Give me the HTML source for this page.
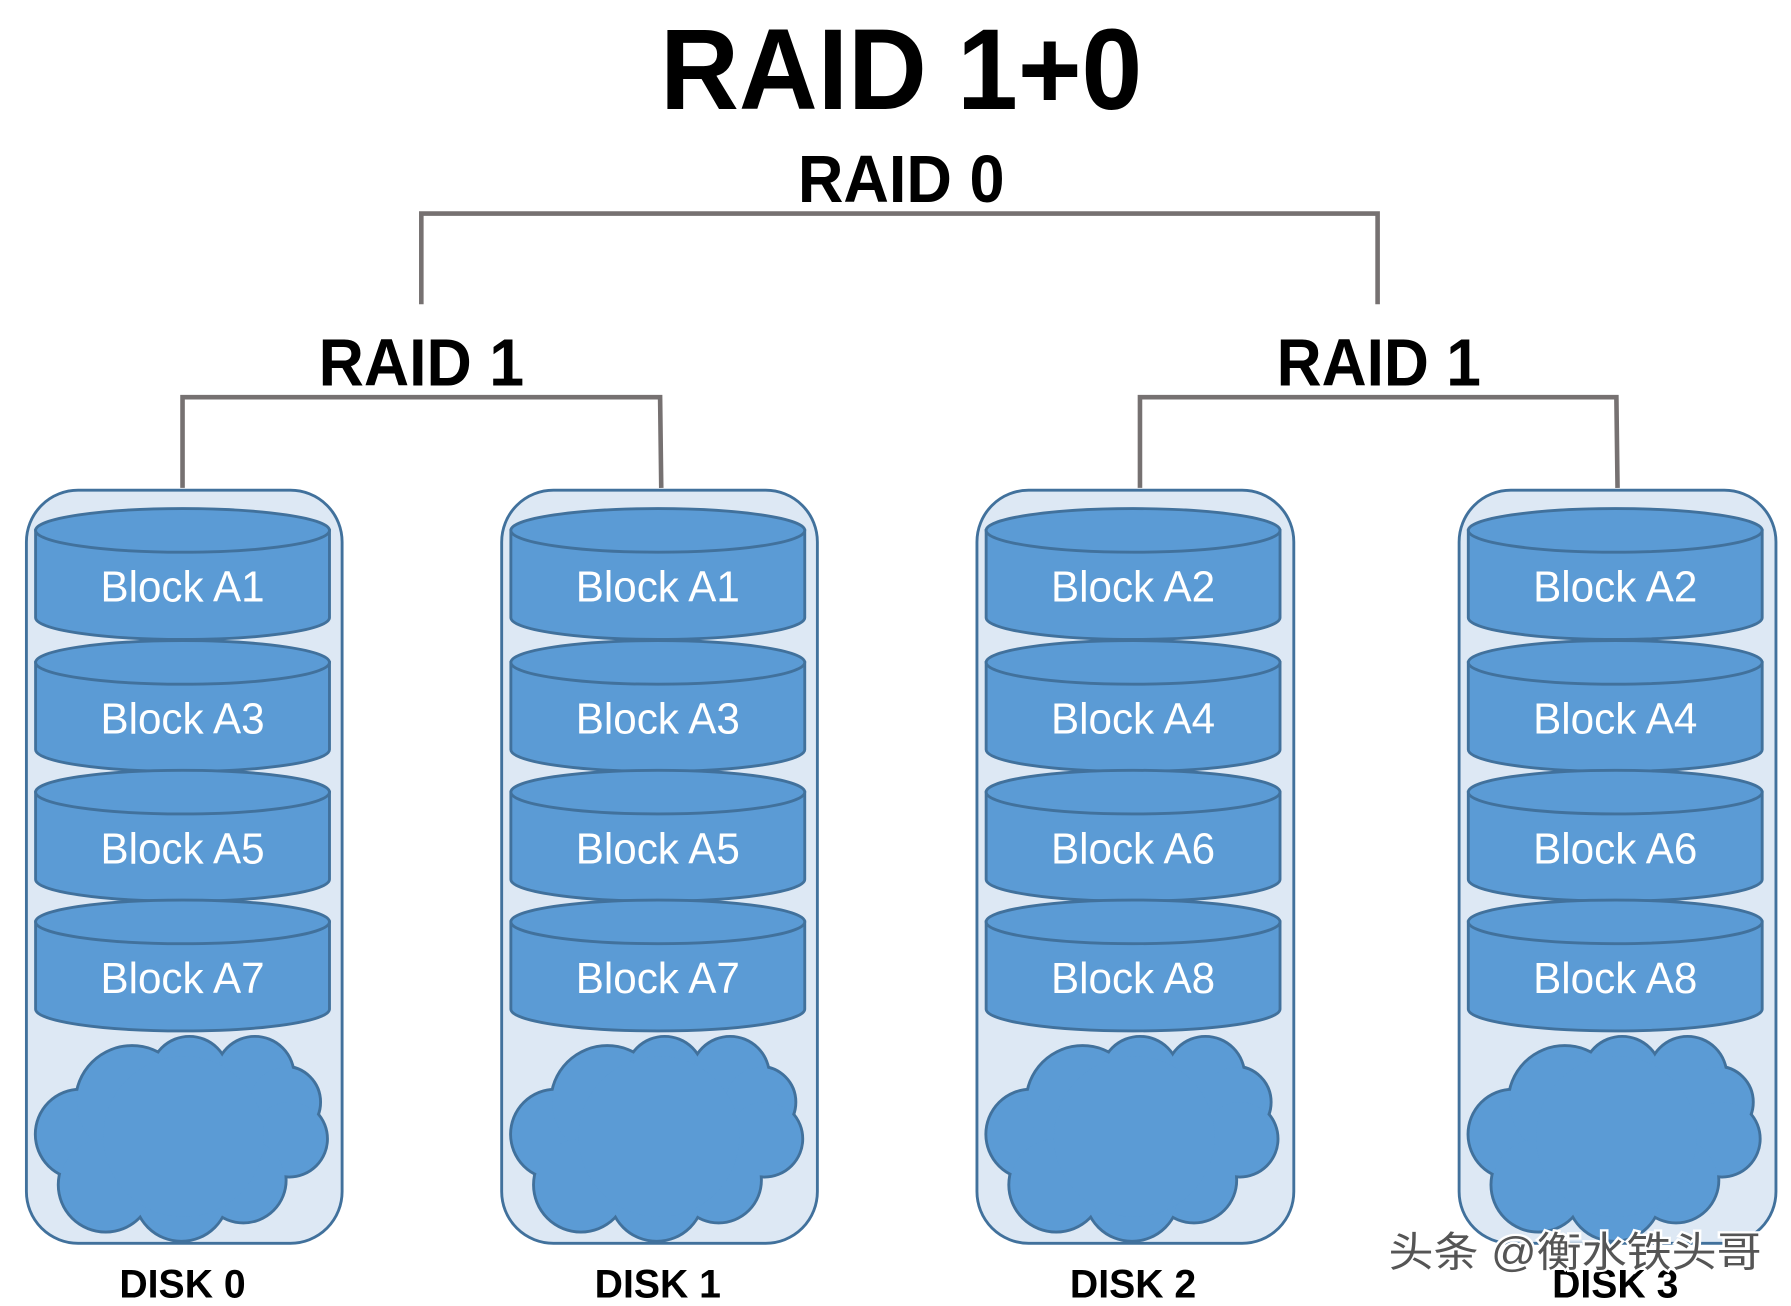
<!DOCTYPE html>
<html><head><meta charset="utf-8"><style>html,body{margin:0;padding:0;background:#fff}svg{display:block}</style></head>
<body>
<svg width="1791" height="1306" viewBox="0 0 1560.1 1137.6" xmlns="http://www.w3.org/2000/svg" font-family="Liberation Sans, sans-serif">
<defs>
<g id="cyl">
<path d="M9,19 L9,95 A128,19 0 0 0 265,95 L265,19 Z" fill="#5b9bd5" stroke="#41719c" stroke-width="2.5"/>
<ellipse cx="137" cy="19" rx="128" ry="19" fill="#5b9bd5" stroke="#41719c" stroke-width="2.5"/>
</g>
<g id="cloudc">
<circle cx="70" cy="988" r="38"/><circle cx="115" cy="960" r="48"/><circle cx="165" cy="937" r="33"/>
<circle cx="222" cy="937" r="33"/><circle cx="248" cy="960" r="30"/><circle cx="252" cy="992" r="32"/>
<circle cx="212" cy="1028" r="36"/><circle cx="158" cy="1040" r="40"/><circle cx="92" cy="1032" r="40"/>
<circle cx="160" cy="990" r="70"/>
</g>
<g id="cloud">
<use href="#cloudc" fill="#5b9bd5" stroke="#41719c" stroke-width="5"/>
<use href="#cloudc" fill="#5b9bd5"/>
</g>
</defs>

<text x="785" y="95" text-anchor="middle" font-size="100" font-weight="bold" textLength="420" lengthAdjust="spacingAndGlyphs">RAID 1+0</text>
<text x="785" y="176" text-anchor="middle" font-size="58" font-weight="bold" textLength="180" lengthAdjust="spacingAndGlyphs">RAID 0</text>
<text x="367" y="336" text-anchor="middle" font-size="58" font-weight="bold" textLength="179" lengthAdjust="spacingAndGlyphs">RAID 1</text>
<text x="1201" y="336" text-anchor="middle" font-size="58" font-weight="bold" textLength="178" lengthAdjust="spacingAndGlyphs">RAID 1</text>

<g fill="none" stroke="#767171" stroke-width="4">
<path d="M367,265 L367,186 L1200,186 L1200,265"/>
<path d="M159,425 L159,346 L575,346 L576,425"/>
<path d="M993,425 L993,346 L1408,346 L1409,425"/>
</g>

<g transform="translate(22,0)">
<rect x="1" y="427" width="275" height="656" rx="45" fill="#dde8f4" stroke="#41719c" stroke-width="2.5"/>
<use href="#cyl" y="443"/><use href="#cyl" y="558"/><use href="#cyl" y="671"/><use href="#cyl" y="784"/>
<g fill="#fff" font-size="38" text-anchor="middle">
<text x="137" y="524" textLength="143" lengthAdjust="spacingAndGlyphs">Block A1</text>
<text x="137" y="639" textLength="143" lengthAdjust="spacingAndGlyphs">Block A3</text>
<text x="137" y="752" textLength="143" lengthAdjust="spacingAndGlyphs">Block A5</text>
<text x="137" y="865" textLength="143" lengthAdjust="spacingAndGlyphs">Block A7</text>
</g>
<use href="#cloud" x="-22"/>
<text x="137" y="1130" text-anchor="middle" font-size="35" font-weight="bold" textLength="110" lengthAdjust="spacingAndGlyphs">DISK 0</text>
</g>

<g transform="translate(436,0)">
<rect x="1" y="427" width="275" height="656" rx="45" fill="#dde8f4" stroke="#41719c" stroke-width="2.5"/>
<use href="#cyl" y="443"/><use href="#cyl" y="558"/><use href="#cyl" y="671"/><use href="#cyl" y="784"/>
<g fill="#fff" font-size="38" text-anchor="middle">
<text x="137" y="524" textLength="143" lengthAdjust="spacingAndGlyphs">Block A1</text>
<text x="137" y="639" textLength="143" lengthAdjust="spacingAndGlyphs">Block A3</text>
<text x="137" y="752" textLength="143" lengthAdjust="spacingAndGlyphs">Block A5</text>
<text x="137" y="865" textLength="143" lengthAdjust="spacingAndGlyphs">Block A7</text>
</g>
<use href="#cloud" x="-22"/>
<text x="137" y="1130" text-anchor="middle" font-size="35" font-weight="bold" textLength="110" lengthAdjust="spacingAndGlyphs">DISK 1</text>
</g>

<g transform="translate(850,0)">
<rect x="1" y="427" width="276" height="656" rx="45" fill="#dde8f4" stroke="#41719c" stroke-width="2.5"/>
<use href="#cyl" y="443"/><use href="#cyl" y="558"/><use href="#cyl" y="671"/><use href="#cyl" y="784"/>
<g fill="#fff" font-size="38" text-anchor="middle">
<text x="137" y="524" textLength="143" lengthAdjust="spacingAndGlyphs">Block A2</text>
<text x="137" y="639" textLength="143" lengthAdjust="spacingAndGlyphs">Block A4</text>
<text x="137" y="752" textLength="143" lengthAdjust="spacingAndGlyphs">Block A6</text>
<text x="137" y="865" textLength="143" lengthAdjust="spacingAndGlyphs">Block A8</text>
</g>
<use href="#cloud" x="-22"/>
<text x="137" y="1130" text-anchor="middle" font-size="35" font-weight="bold" textLength="110" lengthAdjust="spacingAndGlyphs">DISK 2</text>
</g>

<g transform="translate(1270,0)">
<rect x="1" y="427" width="276" height="656" rx="45" fill="#dde8f4" stroke="#41719c" stroke-width="2.5"/>
<use href="#cyl" y="443"/><use href="#cyl" y="558"/><use href="#cyl" y="671"/><use href="#cyl" y="784"/>
<g fill="#fff" font-size="38" text-anchor="middle">
<text x="137" y="524" textLength="143" lengthAdjust="spacingAndGlyphs">Block A2</text>
<text x="137" y="639" textLength="143" lengthAdjust="spacingAndGlyphs">Block A4</text>
<text x="137" y="752" textLength="143" lengthAdjust="spacingAndGlyphs">Block A6</text>
<text x="137" y="865" textLength="143" lengthAdjust="spacingAndGlyphs">Block A8</text>
</g>
<use href="#cloud" x="-22"/>
<text x="137" y="1130" text-anchor="middle" font-size="35" font-weight="bold" textLength="110" lengthAdjust="spacingAndGlyphs">DISK 3</text>
</g>

<text x="1372" y="1103" text-anchor="middle" font-size="36" font-family="Liberation Sans, Noto Sans CJK SC, sans-serif" fill="#555" stroke="#fff" stroke-width="4" paint-order="stroke" textLength="325" lengthAdjust="spacingAndGlyphs">头条 @衡水铁头哥</text>
</svg>
</body></html>
